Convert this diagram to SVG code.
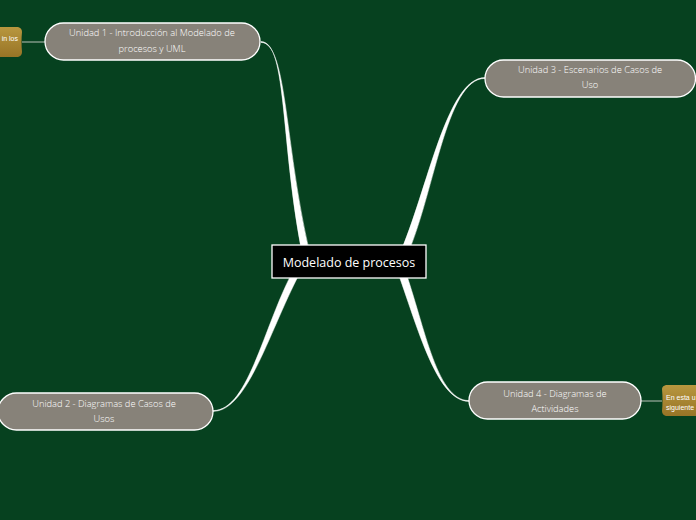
<svg xmlns="http://www.w3.org/2000/svg" width="696" height="520" viewBox="0 0 696 520">
<defs>
<linearGradient id="gold" x1="0" y1="0" x2="0" y2="1">
<stop offset="0" stop-color="#b8973f"/>
<stop offset="1" stop-color="#987426"/>
</linearGradient>
<style>
.topic{fill:#878279;stroke:#ffffff;stroke-width:1.3}
.tt{fill:#ffffff;font-family:"Open Sans","Liberation Sans",sans-serif;font-size:9.3px;font-weight:300;text-anchor:middle}
.conn{fill:#ffffff;stroke:#ffffff;stroke-width:0.5}
.link{stroke:#b9c2b9;stroke-width:1;fill:none}
.gold{fill:url(#gold)}
.gt{fill:#ffffff;font-family:"Liberation Sans",sans-serif;font-size:7px}
</style>
</defs>
<rect width="696" height="520" fill="#06411f"/>
<g id="connectors">
<path class="conn" d="M261,41.6 C288,41.6 280,150 304,262 L312,262 C284,150 288,42.4 261,42.4 Z"/>
<path class="conn" d="M485,77.6 C445,77.6 426,200 396,262 L404,262 C434,200 445,78.4 485,78.4 Z"/>
<path class="conn" d="M213,410.6 C250,410.6 264,320 298,262 L306,262 C272,320 250,411.4 213,411.4 Z"/>
<path class="conn" d="M469,400.6 C435,400.6 424,320 402,262 L394,262 C416,320 435,401.4 469,401.4 Z"/>
<line class="link" x1="22" y1="42" x2="45" y2="42"/>
<line class="link" x1="641" y1="401" x2="662" y2="401"/>
</g>
<g id="center">
<rect x="272" y="245" width="154" height="33" fill="#000000" stroke="#ffffff" stroke-width="1.3"/>
<text x="349" y="266.5" fill="#ffffff" font-family="'Open Sans','Liberation Sans',sans-serif" font-size="12.5" text-anchor="middle">Modelado de procesos</text>
</g>
<g id="unidad1">
<rect class="topic" x="45" y="23" width="215" height="37" rx="18.5"/>
<text class="tt" x="152" y="36">Unidad 1 - Introducción al Modelado de</text>
<text class="tt" x="152" y="51.5">procesos y UML</text>
</g>
<g id="unidad3">
<rect class="topic" x="485" y="60" width="210.5" height="37" rx="18.5"/>
<text class="tt" x="590" y="73">Unidad 3 - Escenarios de Casos de</text>
<text class="tt" x="590" y="88">Uso</text>
</g>
<g id="unidad2">
<rect class="topic" x="-2" y="393" width="215" height="37" rx="18.5"/>
<text class="tt" x="104" y="407">Unidad 2 - Diagramas de Casos de</text>
<text class="tt" x="104" y="422">Usos</text>
</g>
<g id="unidad4">
<rect class="topic" x="469" y="382" width="172" height="37" rx="18.5"/>
<text class="tt" x="555" y="397">Unidad 4 - Diagramas de</text>
<text class="tt" x="555" y="412">Actividades</text>
</g>
<g id="nota1">
<path class="gold" d="M-10,27 L18,27 Q22,28 22,32 Q21,42 22,52 Q22,56 18,57 L-10,57 Z"/>
<text class="gt" x="18" y="40.5" text-anchor="end">in los</text>
</g>
<g id="nota4">
<path class="gold" d="M666,385 L700,385 L700,416 L666,416 Q662,415 662,411 Q663,400 662,389 Q662,386 666,385 Z"/>
<text class="gt" x="666" y="400">En esta u</text>
<text class="gt" x="666" y="410">siguiente</text>
</g>
</svg>
